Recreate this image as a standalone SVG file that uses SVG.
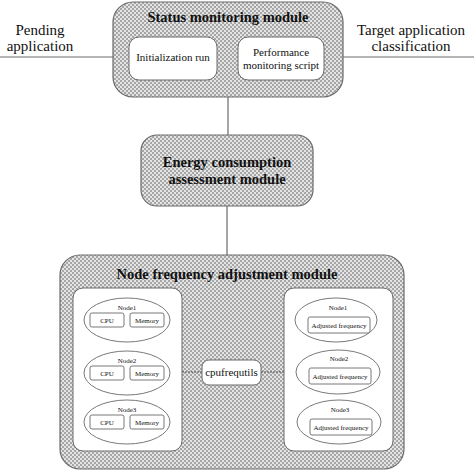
<svg xmlns="http://www.w3.org/2000/svg" width="474" height="474" viewBox="0 0 474 474">
<defs>
<pattern id="chk" width="4" height="4" patternUnits="userSpaceOnUse">
<rect width="4" height="4" fill="#e4e4e4"/>
<rect width="2" height="2" fill="#a6a6a6"/>
<rect x="2" y="2" width="2" height="2" fill="#a6a6a6"/>
</pattern>
<style>
.mod{fill:url(#chk);stroke:#6a6a6a;stroke-width:1.2}
.pan{fill:#fff;stroke:#6a6a6a;stroke-width:1}
.sm{fill:#fff;stroke:#6a6a6a;stroke-width:0.9}
.ln{stroke:#6a6a6a;stroke-width:1.2;fill:none}
.dl{stroke:#555;stroke-width:1;stroke-dasharray:2,1;fill:none}
text{font-family:"Liberation Serif","Times New Roman",serif;fill:#111;text-anchor:middle}
.t{font-weight:bold;font-size:14.5px}
.lb{font-size:15px}
.m{font-size:11px}
.s{font-size:7px}
</style>
</defs>
<rect width="474" height="474" fill="#fff"/>
<g id="connectors">
<line class="ln" x1="0" y1="57" x2="113" y2="57"/>
<line class="ln" x1="343" y1="57" x2="474" y2="57"/>
<line class="ln" x1="228" y1="97" x2="228" y2="135"/>
<line class="ln" x1="227" y1="206" x2="227" y2="255"/>
</g>
<g id="pending">
<text class="lb" x="40" y="35">Pending</text>
<text class="lb" x="40" y="51">application</text>
</g>
<g id="target">
<text class="lb" x="411" y="35">Target application</text>
<text class="lb" x="411" y="51">classification</text>
</g>
<g id="status-module">
<rect class="mod" x="113" y="2" width="230" height="95" rx="20"/>
<text class="t" x="228" y="22">Status monitoring module</text>
<g id="init-run">
<rect class="pan" x="129" y="37" width="88" height="43" rx="10"/>
<text class="m" x="173" y="61">Initialization run</text>
</g>
<g id="perf-script">
<rect class="pan" x="238" y="37" width="86" height="43" rx="10"/>
<text class="m" x="281" y="56">Performance</text>
<text class="m" x="281" y="69">monitoring script</text>
</g>
</g>
<g id="energy-module">
<rect class="mod" x="141" y="135" width="172" height="71" rx="16"/>
<text class="t" x="227" y="167">Energy consumption</text>
<text class="t" x="227" y="184">assessment module</text>
</g>
<g id="node-freq-module">
<rect class="mod" x="60" y="255" width="344" height="214" rx="20"/>
<text class="t" x="227" y="279">Node frequency adjustment module</text>
<g id="dashed-links">
<line class="dl" x1="182" y1="372" x2="202" y2="372"/>
<line class="dl" x1="261" y1="372" x2="284" y2="372"/>
</g>
<g id="left-panel">
<rect class="pan" x="73" y="288" width="109" height="163" rx="10"/>
<g id="l-node1">
<ellipse class="sm" cx="127" cy="320" rx="43" ry="22"/>
<text class="s" x="127" y="310">Node1</text>
<rect class="sm" x="90" y="313" width="34" height="14" rx="2"/>
<text class="s" x="107" y="322.5">CPU</text>
<rect class="sm" x="130" y="313" width="34" height="14" rx="2"/>
<text class="s" x="147" y="322.5">Memory</text>
</g>
<g id="l-node2">
<ellipse class="sm" cx="127" cy="373" rx="43" ry="22"/>
<text class="s" x="127" y="363">Node2</text>
<rect class="sm" x="90" y="366" width="34" height="14" rx="2"/>
<text class="s" x="107" y="375.5">CPU</text>
<rect class="sm" x="130" y="366" width="34" height="14" rx="2"/>
<text class="s" x="147" y="375.5">Memory</text>
</g>
<g id="l-node3">
<ellipse class="sm" cx="127" cy="422" rx="43" ry="22"/>
<text class="s" x="127" y="412">Node3</text>
<rect class="sm" x="90" y="415" width="34" height="14" rx="2"/>
<text class="s" x="107" y="424.5">CPU</text>
<rect class="sm" x="130" y="415" width="34" height="14" rx="2"/>
<text class="s" x="147" y="424.5">Memory</text>
</g>
</g>
<g id="cpufrequtils">
<rect class="pan" x="202" y="360" width="59" height="25" rx="7"/>
<text x="231.5" y="376" style="font-size:11px">cpufrequtils</text>
</g>
<g id="right-panel">
<rect class="pan" x="284" y="288" width="109" height="163" rx="10"/>
<g id="r-node1">
<ellipse class="sm" cx="336" cy="320" rx="41" ry="22"/>
<text class="s" x="338" y="310">Node1</text>
<rect class="sm" x="308" y="317" width="62" height="16" rx="2"/>
<text class="s" x="339" y="327.5">Adjusted frequency</text>
</g>
<g id="r-node2">
<ellipse class="sm" cx="338" cy="372" rx="42" ry="22"/>
<text class="s" x="339" y="361">Node2</text>
<rect class="sm" x="309" y="368" width="62" height="16" rx="2"/>
<text class="s" x="340" y="378.5">Adjusted frequency</text>
</g>
<g id="r-node3">
<ellipse class="sm" cx="339" cy="422" rx="42" ry="22"/>
<text class="s" x="340" y="412">Node3</text>
<rect class="sm" x="310" y="419" width="62" height="16" rx="2"/>
<text class="s" x="341" y="429.5">Adjusted frequency</text>
</g>
</g>
</g>
</svg>
